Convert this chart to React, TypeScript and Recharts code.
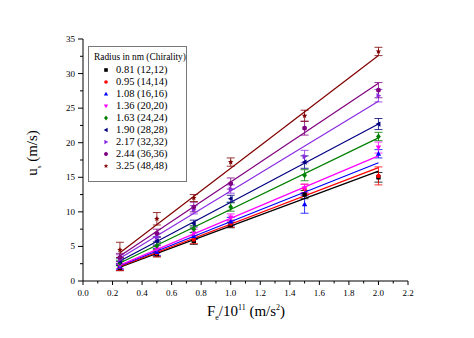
import React from "react";
import { ComposedChart, Scatter, XAxis, YAxis, ErrorBar } from "recharts";

const xValues = [0.25, 0.5, 0.75, 1.0, 1.5, 2.0];

const seriesNames = [
  "0.81 (12,12)", "0.95 (14,14)", "1.08 (16,16)", "1.36 (20,20)", "1.63 (24,24)",
  "1.90 (28,28)", "2.17 (32,32)", "2.44 (36,36)", "3.25 (48,48)",
];
const seriesColors = ["#000000", "#ff0000", "#0000ff", "#ff00ff", "#008000", "#000080", "#8a2be2", "#800080", "#800000"];
const seriesShapes = ["square", "circle", "up", "down", "diamond", "left", "right", "hex", "star"];

const r081 = [1.9, 3.9, 5.8, 8.1, 12.5, 15.0];
const r095 = [2.0, 4.0, 6.0, 8.3, 13.3, 15.2];
const r108 = [2.1, 4.2, 6.5, 8.6, 11.1, 18.4];
const r136 = [2.3, 4.6, 6.9, 9.2, 13.4, 19.3];
const r163 = [2.6, 5.1, 7.5, 10.7, 15.3, 20.9];
const r190 = [2.8, 5.8, 8.3, 11.9, 17.2, 22.7];
const r217 = [3.1, 6.3, 10.3, 13.3, 18.0, 26.8];
const r244 = [3.4, 6.9, 10.7, 14.1, 22.1, 27.6];
const r325 = [4.5, 9.0, 12.0, 17.2, 23.9, 33.2];

const e081 = [0.4, 0.4, 0.5, 0.4, 0.6, 0.7];
const e095 = [0.5, 0.5, 0.6, 0.5, 0.7, 1.3];
const e108 = [0.4, 0.5, 0.5, 0.6, 1.3, 0.6];
const e136 = [0.5, 0.5, 0.6, 0.5, 0.6, 0.8];
const e163 = [0.4, 0.5, 0.5, 0.6, 0.8, 0.6];
const e190 = [0.5, 0.6, 0.5, 0.5, 0.9, 0.8];
const e217 = [0.7, 0.6, 0.6, 0.6, 0.9, 0.9];
const e244 = [0.6, 0.6, 0.7, 0.8, 1.0, 1.1];
const e325 = [1.1, 0.9, 0.5, 0.6, 0.8, 0.6];

const fitX = [0.25, 2.0];
const fitStart = [2.0, 2.1, 2.2, 2.3, 2.6, 2.9, 3.3, 3.6, 4.1];
const fitEnd = [15.9, 16.4, 17.1, 18.1, 20.7, 22.7, 26.0, 28.6, 32.6];

const xMajorTicks = [0, 0.2, 0.4, 0.6, 0.8, 1.0, 1.2, 1.4, 1.6, 1.8, 2.0, 2.2];
const xMinorTicks = [0.1, 0.3, 0.5, 0.7, 0.9, 1.1, 1.3, 1.5, 1.7, 1.9, 2.1];
const yMajorTicks = [0, 5, 10, 15, 20, 25, 30, 35];
const yMinorTicks = [2.5, 7.5, 12.5, 17.5, 22.5, 27.5, 32.5];
const topTicks = [0.22, 0.44, 0.66, 0.88, 1.1, 1.32, 1.54, 1.76, 1.98];
const rightTicks = [3.5, 7, 10.5, 14, 17.5, 21, 24.5, 28, 31.5];

const allY = [r081, r095, r108, r136, r163, r190, r217, r244, r325];
const allE = [e081, e095, e108, e136, e163, e190, e217, e244, e325];

const pointData = allY.map((ys, i) => xValues.map((x, j) => ({ x, y: ys[j], e: allE[i][j] })));
const fitData = fitStart.map((s, i) => [
  { x: fitX[0], y: s },
  { x: fitX[1], y: fitEnd[i] },
]);

const FONT = "Liberation Serif";

function Marker({ kind, color, cx, cy, s = 2.2 }: any) {
  if (cx == null || cy == null) return <g />;
  const poly = (pts: number[][]) => <polygon points={pts.map((p) => p.join(",")).join(" ")} fill={color} />;
  switch (kind) {
    case "square":
      return <rect x={cx - s} y={cy - s} width={2 * s} height={2 * s} fill={color} />;
    case "circle":
      return <circle cx={cx} cy={cy} r={s} fill={color} />;
    case "up":
      return poly([[cx, cy - s * 1.3], [cx - s * 1.2, cy + s * 0.9], [cx + s * 1.2, cy + s * 0.9]]);
    case "down":
      return poly([[cx, cy + s * 1.3], [cx - s * 1.2, cy - s * 0.9], [cx + s * 1.2, cy - s * 0.9]]);
    case "diamond":
      return poly([[cx, cy - s * 1.35], [cx + s * 1.1, cy], [cx, cy + s * 1.35], [cx - s * 1.1, cy]]);
    case "left":
      return poly([[cx - s * 1.3, cy], [cx + s * 0.9, cy - s * 1.2], [cx + s * 0.9, cy + s * 1.2]]);
    case "right":
      return poly([[cx + s * 1.3, cy], [cx - s * 0.9, cy - s * 1.2], [cx - s * 0.9, cy + s * 1.2]]);
    case "hex": {
      const pts = [0, 1, 2, 3, 4, 5].map((k) => {
        const a = (Math.PI / 3) * k + Math.PI / 6;
        return [cx + s * 1.2 * Math.cos(a), cy + s * 1.2 * Math.sin(a)];
      });
      return poly(pts);
    }
    default: {
      const pts: number[][] = [];
      for (let k = 0; k < 10; k++) {
        const a = (Math.PI / 5) * k - Math.PI / 2;
        const r = k % 2 === 0 ? s * 1.3 : s * 0.6;
        pts.push([cx + r * Math.cos(a), cy + r * Math.sin(a)]);
      }
      return poly(pts);
    }
  }
}

const makeShape = (kind: string, color: string) => (p: any) => <Marker kind={kind} color={color} cx={p.cx} cy={p.cy} />;
const emptyShape = () => <g />;

const BottomTick = (props: any) => {
  const { x, y, payload } = props;
  const v = payload.value;
  const major = xMajorTicks.includes(v);
  return (
    <g>
      <line x1={x} x2={x} y1={y} y2={y + (major ? 4 : 2.5)} stroke="#000" strokeWidth={1} />
      {major && (
        <text x={x} y={y + 15} textAnchor="middle" fontSize={9} fontFamily={FONT} fill="#000">
          {v.toFixed(1)}
        </text>
      )}
    </g>
  );
};

const LeftTick = (props: any) => {
  const { x, y, payload } = props;
  const v = payload.value;
  const major = yMajorTicks.includes(v);
  return (
    <g>
      <line x1={x - (major ? 5 : 3)} x2={x} y1={y} y2={y} stroke="#000" strokeWidth={1} />
      {major && (
        <text x={x - 8} y={y + 3} textAnchor="end" fontSize={9} fontFamily={FONT} fill="#000">
          {v}
        </text>
      )}
    </g>
  );
};

const TopTick = (props: any) => {
  const { x, y } = props;
  return <line x1={x} x2={x} y1={y} y2={y + 4} stroke="#000" strokeWidth={1} />;
};

const RightTick = (props: any) => {
  const { x, y } = props;
  return <line x1={x - 4} x2={x} y1={y} y2={y} stroke="#000" strokeWidth={1} />;
};

export default function App() {
  return (
    <div style={{ position: "absolute", left: 0, top: 0, width: 474, height: 338, background: "#fff" }}>
      <ComposedChart width={474} height={338} margin={{ top: 39, right: 66, left: 0, bottom: 0 }}>
        <XAxis
          xAxisId="x"
          dataKey="x"
          type="number"
          domain={[0, 2.2]}
          ticks={[...xMajorTicks, ...xMinorTicks]}
          interval={0}
          tickSize={0}
          tickMargin={0}
          tickLine={false}
          tick={<BottomTick />}
          height={57}
          allowDataOverflow
          axisLine={{ stroke: "#000", strokeWidth: 1 }}
        />
        <XAxis
          xAxisId="top"
          orientation="top"
          type="number"
          domain={[0, 2.2]}
          ticks={topTicks}
          interval={0}
          tickSize={0}
          tickMargin={0}
          tickLine={false}
          tick={<TopTick />}
          height={0}
          allowDataOverflow
          axisLine={{ stroke: "#000", strokeWidth: 1 }}
        />
        <YAxis
          yAxisId="y"
          dataKey="y"
          type="number"
          domain={[0, 35]}
          ticks={[...yMajorTicks, ...yMinorTicks]}
          interval={0}
          tickSize={0}
          tickMargin={0}
          tickLine={false}
          tick={<LeftTick />}
          width={83}
          allowDataOverflow
          axisLine={{ stroke: "#000", strokeWidth: 1 }}
        />
        <YAxis
          yAxisId="right"
          orientation="right"
          type="number"
          domain={[0, 35]}
          ticks={rightTicks}
          interval={0}
          tickSize={0}
          tickMargin={0}
          tickLine={false}
          tick={<RightTick />}
          width={0}
          allowDataOverflow
          axisLine={{ stroke: "#000", strokeWidth: 1 }}
        />
        {fitData.map((d, i) => (
          <Scatter
            key={"fit" + i}
            xAxisId="x"
            yAxisId="y"
            data={d}
            line={{ stroke: seriesColors[i], strokeWidth: 1.2 }}
            shape={emptyShape}
            isAnimationActive={false}
          />
        ))}
        {pointData.map((d, i) => (
          <Scatter
            key={"pts" + i}
            xAxisId="x"
            yAxisId="y"
            data={d}
            shape={makeShape(seriesShapes[i], seriesColors[i])}
            isAnimationActive={false}
          >
            <ErrorBar dataKey="e" direction="y" width={4} stroke={seriesColors[i]} strokeWidth={0.8} />
          </Scatter>
        ))}
      </ComposedChart>

      <div
        style={{
          position: "absolute",
          left: 88,
          top: 46,
          width: 99,
          height: 136,
          border: "1px solid #777",
          boxSizing: "border-box",
          fontFamily: FONT,
          color: "#000",
          background: "#fff",
        }}
      >
        <div style={{ position: "absolute", left: 5, top: 4, fontSize: 9.4, whiteSpace: "nowrap", lineHeight: "12px" }}>
          Radius in nm (Chirality)
        </div>
        {seriesNames.map((n, i) => (
          <div
            key={n}
            style={{ position: "absolute", left: 12, top: 17 + i * 12, height: 12, display: "flex", alignItems: "center", whiteSpace: "nowrap" }}
          >
            <svg width={10} height={12}>
              <Marker kind={seriesShapes[i]} color={seriesColors[i]} cx={5} cy={6} s={1.8} />
            </svg>
            <span style={{ fontSize: 10.5, marginLeft: 5, lineHeight: "12px" }}>{n}</span>
          </div>
        ))}
      </div>

      <div
        style={{
          position: "absolute",
          left: 33,
          top: 153,
          transform: "translate(-50%, -50%) rotate(-90deg)",
          fontFamily: FONT,
          fontSize: 15,
          whiteSpace: "nowrap",
          color: "#000",
        }}
      >
        u<sub style={{ fontSize: 7 }}>s</sub> (m/s)
      </div>
      <div
        style={{
          position: "absolute",
          left: 246,
          top: 312,
          transform: "translate(-50%, -50%)",
          fontFamily: FONT,
          fontSize: 15,
          whiteSpace: "nowrap",
          color: "#000",
        }}
      >
        F<sub style={{ fontSize: 8 }}>e</sub>/10<sup style={{ fontSize: 8 }}>11</sup> (m/s<sup style={{ fontSize: 8 }}>2</sup>)
      </div>
    </div>
  );
}
